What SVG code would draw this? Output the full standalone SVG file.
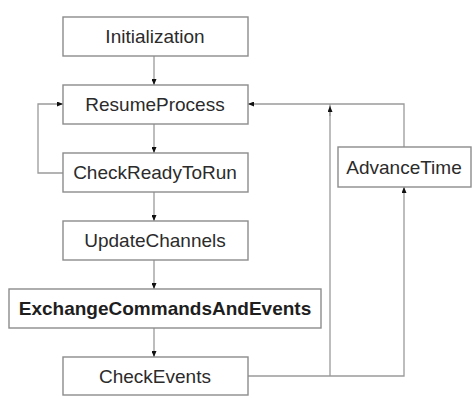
<svg xmlns="http://www.w3.org/2000/svg" width="474" height="410" viewBox="0 0 474 410">
<style>
.box{fill:#fff;stroke:#8c8c8c;stroke-width:1.4}
.lbl{font-family:"Liberation Sans",Arial,sans-serif;font-size:19px;fill:#2b2b2b;text-anchor:middle}
.bold{font-weight:bold;fill:#1e1e1e}
.ln{fill:none;stroke:#9a9a9a;stroke-width:1.3}
</style>
<defs>
<marker id="ah" viewBox="0 0 8 8" refX="8" refY="4" markerWidth="6" markerHeight="5" markerUnits="userSpaceOnUse" orient="auto" preserveAspectRatio="none">
<path d="M0,0 L8,4 L0,8 Z" fill="#111"/>
</marker>
</defs>
<rect width="474" height="410" fill="#fff"/>
<g id="connectors">
<path class="ln" d="M154 56 V85" marker-end="url(#ah)"/>
<path class="ln" d="M154 124 V153" marker-end="url(#ah)"/>
<path class="ln" d="M154 192 V221" marker-end="url(#ah)"/>
<path class="ln" d="M154 260 V289" marker-end="url(#ah)"/>
<path class="ln" d="M154 328 V357" marker-end="url(#ah)"/>
<path class="ln" d="M63 173 H38 V104 H63" marker-end="url(#ah)"/>
<path class="ln" d="M248 376 H404 V187" marker-end="url(#ah)"/>
<path class="ln" d="M330 376 V104"/>
<path class="ln" d="M330 116 V106" marker-end="url(#ah)"/>
<path class="ln" d="M404 147 V104 H248" marker-end="url(#ah)"/>
</g>
<g id="initialization"><rect class="box" x="63" y="17" width="185" height="39"/><text class="lbl" x="155" y="43">Initialization</text></g>
<g id="resumeprocess"><rect class="box" x="63" y="85" width="185" height="39"/><text class="lbl" x="155" y="111">ResumeProcess</text></g>
<g id="checkreadytorun"><rect class="box" x="63" y="153" width="185" height="39"/><text class="lbl" x="155" y="179">CheckReadyToRun</text></g>
<g id="updatechannels"><rect class="box" x="63" y="221" width="185" height="39"/><text class="lbl" x="155" y="247">UpdateChannels</text></g>
<g id="exchange"><rect class="box" x="9" y="289" width="312" height="39"/><text class="lbl bold" x="165" y="315">ExchangeCommandsAndEvents</text></g>
<g id="checkevents"><rect class="box" x="63" y="357" width="185" height="38"/><text class="lbl" x="155" y="383">CheckEvents</text></g>
<g id="advancetime"><rect class="box" x="338" y="147" width="133" height="40"/><text class="lbl" x="404" y="174">AdvanceTime</text></g>
</svg>
